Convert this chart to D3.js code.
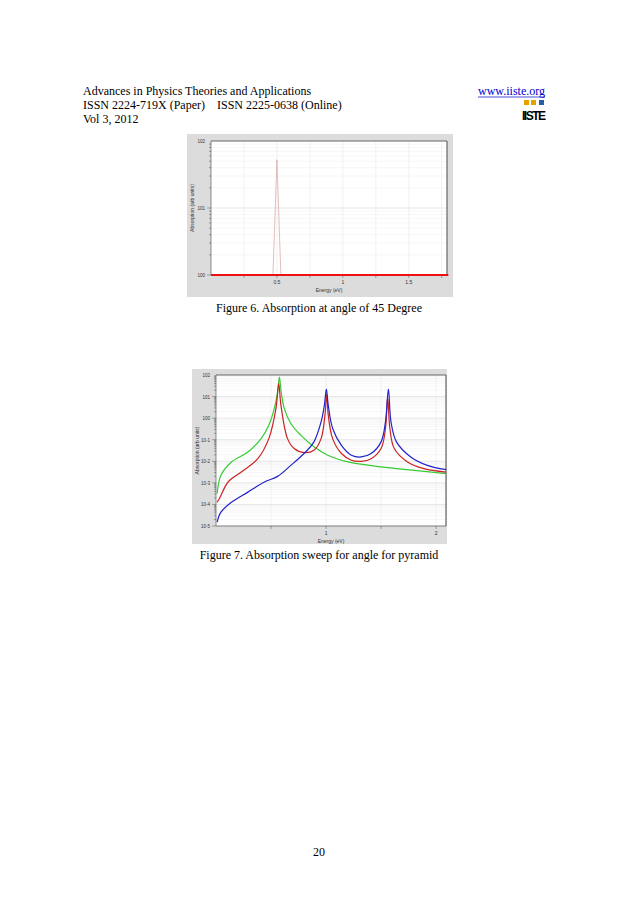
<!DOCTYPE html><html><head><meta charset="utf-8"><script src="https://d3js.org/d3.v7.min.js"></script>
<style>body{margin:0;background:#fff}</style></head><body><svg id="s" width="638" height="903"></svg>
<script>
// Figure 6 data
const f6Ticks=[0.5,1,1.5];
const f6YLabels=["100","101","102"];
const f6Peak=[[0.47,0],[0.5,1.72],[0.53,0]];
const f6Base=[[0,0],[1.8,0]];
// Figure 7 data (x in eV, y = log10 absorption)
const f7YLabels=["102","101","100","10-1","10-2","10-3","10-4","10-5"];
const green=[[0.01,-3.5],[0.045,-2.65],[0.14,-2.03],[0.29,-1.57],[0.41,-0.95],[0.48,-0.33],[0.53,0.45],[0.56,1.22],[0.576,1.9],[0.59,1.3],[0.62,0.45],[0.68,-0.25],[0.77,-0.79],[0.89,-1.33],[1.015,-1.72],[1.2,-2.03],[1.5,-2.26],[1.8,-2.42],[2.09,-2.57]];
const red=[[0.01,-3.9],[0.03,-3.74],[0.11,-2.96],[0.23,-2.5],[0.38,-1.88],[0.48,-0.95],[0.545,0.45],[0.57,1.6],[0.59,0.6],[0.65,-0.95],[0.71,-1.41],[0.8,-1.6],[0.89,-1.49],[0.955,-0.95],[0.99,0.14],[1.006,1.1],[1.02,0.14],[1.06,-0.95],[1.14,-1.64],[1.23,-1.95],[1.32,-2.0],[1.41,-1.88],[1.5,-1.41],[1.54,-0.48],[1.56,0.95],[1.58,-0.48],[1.62,-1.41],[1.74,-2.03],[1.89,-2.34],[2.09,-2.5]];
const blue=[[0.01,-4.82],[0.045,-4.36],[0.14,-3.9],[0.29,-3.43],[0.44,-2.96],[0.56,-2.7],[0.68,-2.19],[0.8,-1.64],[0.89,-1.1],[0.955,-0.17],[0.985,0.6],[1.003,1.35],[1.02,0.6],[1.06,-0.48],[1.14,-1.26],[1.23,-1.72],[1.32,-1.8],[1.41,-1.64],[1.5,-1.1],[1.54,-0.17],[1.567,1.35],[1.59,-0.17],[1.64,-1.1],[1.77,-1.8],[1.92,-2.19],[2.09,-2.39]];

const svg=d3.select("#s");
const serif="'Liberation Serif','Times New Roman',serif";
function t(x,y,s,o={}){return svg.append("text").attr("x",x).attr("y",y).text(s).attr("font-family",serif).attr("font-size",o.fs||12).attr("text-anchor",o.a||"start").attr("fill",o.c||"#000");}
t(83,95,"Advances in Physics Theories and Applications");
t(83,109,"ISSN 2224-719X (Paper)    ISSN 2225-0638 (Online)").attr("xml:space","preserve").style("white-space","pre");
t(83,123,"Vol 3, 2012");
const w=t(545,95,"www.iiste.org",{a:"end",c:"#0000cc"});
const wl=w.node().getComputedTextLength();
svg.append("line").attr("x1",545-wl).attr("x2",545).attr("y1",97).attr("y2",97).attr("stroke","#0000cc").attr("stroke-width",0.7);
// logo
const lg=svg.append("g").attr("transform","translate(522,100)");
lg.append("rect").attr("x",2).attr("y",0).attr("width",5).attr("height",5).attr("fill","#e8a000");
lg.append("rect").attr("x",9).attr("y",0).attr("width",5).attr("height",5).attr("fill","#e8a000");
lg.append("rect").attr("x",17).attr("y",0).attr("width",5).attr("height",5).attr("fill","#2a5caa");
lg.append("text").attr("x",0).attr("y",20).text("IISTE").attr("font-family","Liberation Sans").attr("font-weight","bold").attr("font-size",12).attr("textLength",24);
t(319,312,"Figure 6. Absorption at angle of 45 Degree",{a:"middle"});
t(319,559,"Figure 7. Absorption sweep for angle for pyramid",{a:"middle"});
t(319,856,"20",{a:"middle"});

function panel(P){
  svg.append("rect").attr("x",P.px).attr("y",P.py).attr("width",P.pw).attr("height",P.ph).attr("fill","#dcdcdc");
  svg.append("rect").attr("x",P.x0).attr("y",P.y0).attr("width",P.x1-P.x0).attr("height",P.y1-P.y0).attr("fill","#fff");
  const g=svg.append("g");
  const x=d3.scaleLinear().domain(P.xd).range([P.x0,P.x1]);
  const y=d3.scaleLinear().domain(P.yd).range([P.y1,P.y0]);
  for(let d=P.yd[0];d<P.yd[1];d++){for(let k=1;k<10;k++){const v=d+Math.log10(k);
    g.append("line").attr("x1",P.x0).attr("x2",P.x1).attr("y1",y(v)).attr("y2",y(v)).attr("stroke",k==1?"#ccc":"#eee").attr("stroke-width",0.5);
    g.append("line").attr("x1",P.x0-(k==1?4:2)).attr("x2",P.x0).attr("y1",y(v)).attr("y2",y(v)).attr("stroke","#555").attr("stroke-width",0.5);}}
  P.xg.forEach(v=>{g.append("line").attr("x1",x(v)).attr("x2",x(v)).attr("y1",P.y0).attr("y2",P.y1).attr("stroke","#e4e4e4").attr("stroke-width",0.5);
    g.append("line").attr("x1",x(v)).attr("x2",x(v)).attr("y1",P.y1).attr("y2",P.y1+3).attr("stroke","#555").attr("stroke-width",0.5);});
  svg.append("line").attr("x1",P.x0).attr("x2",P.x1).attr("y1",P.y0).attr("y2",P.y0).attr("stroke","#666").attr("stroke-width",1.2);
  svg.append("line").attr("x1",P.x1).attr("x2",P.x1).attr("y1",P.y0).attr("y2",P.y1).attr("stroke","#666").attr("stroke-width",1.2);
  svg.append("line").attr("x1",P.x0).attr("x2",P.x1).attr("y1",P.y1).attr("y2",P.y1).attr("stroke","#444").attr("stroke-width",0.6);
  svg.append("line").attr("x1",P.x0).attr("x2",P.x0).attr("y1",P.y0).attr("y2",P.y1).attr("stroke","#444").attr("stroke-width",0.6);
  P.yl.forEach((s,i)=>svg.append("text").attr("x",P.x0-6).attr("y",y(P.yd[1]-i)+2).text(s).attr("font-family","Liberation Sans").attr("font-size",4.5).attr("text-anchor","end").attr("fill","#333"));
  P.xl.forEach(v=>svg.append("text").attr("x",x(v)).attr("y",P.y1+9).text(v).attr("font-family","Liberation Sans").attr("font-size",5).attr("text-anchor","middle").attr("fill","#333"));
  svg.append("text").attr("x",(P.x0+P.x1)/2).attr("y",P.y1+17).text("Energy (eV)").attr("font-family","Liberation Sans").attr("font-size",5).attr("text-anchor","middle").attr("fill","#333");
  svg.append("text").attr("transform",`translate(${P.x0-17},${(P.y0+P.y1)/2}) rotate(-90)`).text("Absorption (arb units)").attr("font-family","Liberation Sans").attr("font-size",5).attr("text-anchor","middle").attr("fill","#333");
  return {x,y};
}
const A=panel({px:187,py:134,pw:266,ph:163,x0:211,x1:447,y0:141,y1:275,xd:[0,1.79],yd:[0,2],xg:[0.25,0.5,0.75,1,1.25,1.5,1.75],xl:f6Ticks,yl:f6YLabels.slice().reverse()});
const la=d3.line().x(d=>A.x(d[0])).y(d=>A.y(d[1]));
svg.append("path").attr("d",la(f6Peak)).attr("fill","none").attr("stroke","#d9a0a0").attr("stroke-width",0.7);
svg.append("path").attr("d",la(f6Base)).attr("fill","none").attr("stroke","#ee1111").attr("stroke-width",2);

const B=panel({px:192,py:369,pw:255,ph:175,x0:216,x1:446,y0:375,y1:526,xd:[0,2.09],yd:[-5,2],xg:[0.5,1,1.5,2],xl:[1,2],yl:f7YLabels});
const lb=d3.line().x(d=>B.x(d[0])).y(d=>B.y(d[1])).curve(d3.curveCatmullRom.alpha(0.5));
[[green,"#33cc33"],[red,"#cc2222"],[blue,"#2222cc"]].forEach(([d,c])=>svg.append("path").attr("d",lb(d)).attr("fill","none").attr("stroke",c).attr("stroke-width",1.2));
</script></body></html>
